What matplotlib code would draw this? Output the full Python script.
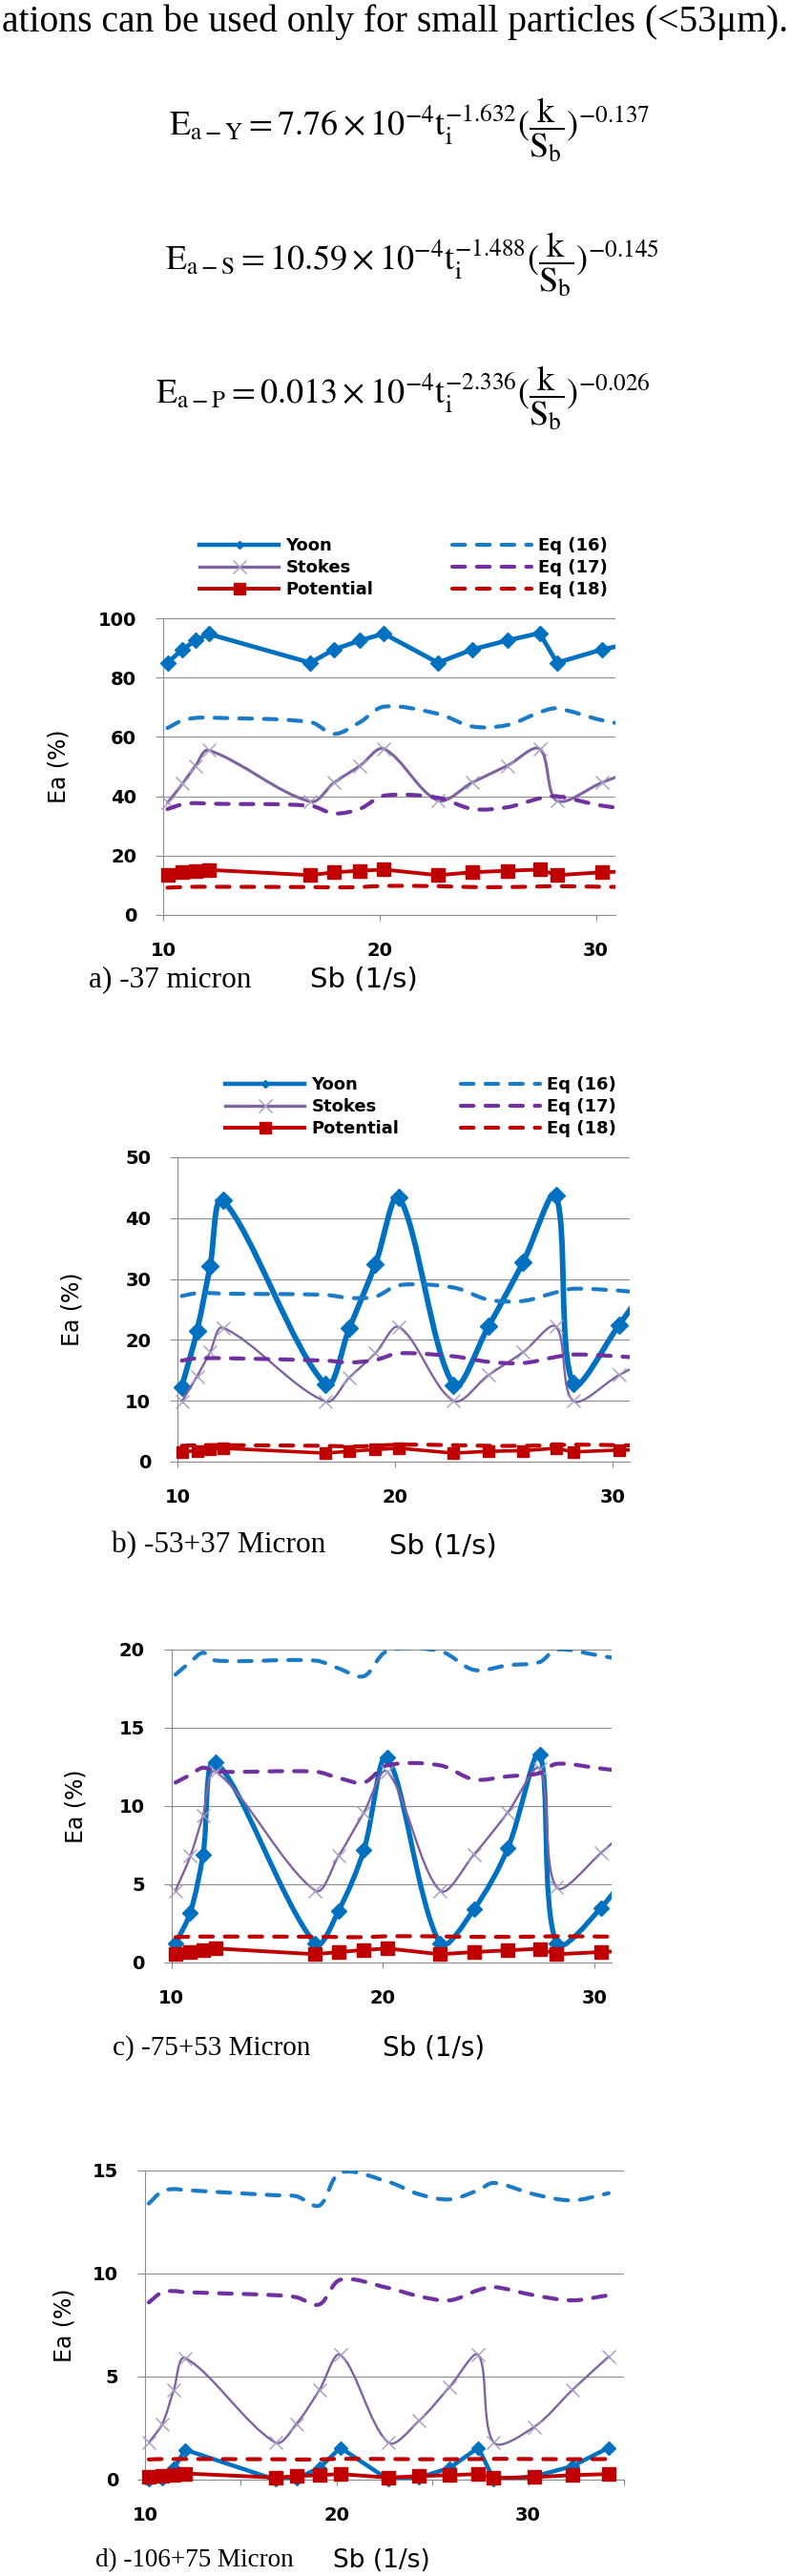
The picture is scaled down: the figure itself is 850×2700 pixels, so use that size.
import numpy as np
import matplotlib
matplotlib.use("Agg")
import matplotlib.pyplot as plt
from matplotlib.path import Path
from matplotlib.patches import PathPatch
from matplotlib.lines import Line2D

plt.rcParams['font.family'] = 'DejaVu Sans'
plt.rcParams['mathtext.fontset'] = 'stix'

# Sb (1/s) of every point, same in all four panels
sb = [10.2, 10.9, 11.5, 12.1, 16.8, 17.9, 19.1, 20.2, 22.7, 24.3, 25.9, 27.4, 28.2, 30.3, 32.3, 34.2]

# a) -37 micron
yoon_a = [85.0, 89.5, 92.5, 94.7, 85.0, 89.5, 92.5, 94.8, 85.0, 89.5, 92.5, 95.0, 85.0, 89.5, 92.5, 95.0]
stokes_a = [37.8, 44.3, 50.3, 55.5, 38.2, 44.6, 50.3, 56.0, 38.6, 44.7, 50.3, 56.0, 38.5, 44.7, 50.3, 56.0]
pot_a = [13.4, 14.4, 14.9, 15.2, 13.4, 14.4, 14.9, 15.3, 13.4, 14.4, 14.9, 15.3, 13.4, 14.4, 14.9, 15.3]
eq16_a = [63.0, 65.6, 66.4, 66.5, 65.0, 61.0, 65.0, 70.2, 67.8, 63.5, 64.0, 68.3, 69.6, 65.6, 63.5, 65.5]
eq17_a = [35.7, 37.3, 37.7, 37.5, 36.8, 34.2, 35.8, 40.2, 39.5, 35.7, 36.3, 39.3, 40.0, 36.8, 35.5, 36.5]
eq18_a = [9.2, 9.4, 9.5, 9.5, 9.4, 9.3, 9.4, 9.8, 9.7, 9.4, 9.4, 9.6, 9.7, 9.5, 9.4, 9.5]

# b) -53+37 Micron
yoon_b = [12.3, 21.5, 32.1, 42.9, 12.7, 21.9, 32.4, 43.4, 12.6, 22.2, 32.8, 43.8, 12.8, 22.4, 32.8, 43.8]
stokes_b = [9.9, 14.0, 18.0, 22.0, 9.9, 13.8, 17.8, 22.1, 10.0, 14.2, 18.0, 22.2, 10.0, 14.2, 18.0, 22.2]
pot_b = [1.6, 1.8, 2.0, 2.2, 1.4, 1.7, 2.0, 2.2, 1.4, 1.7, 1.8, 2.2, 1.6, 1.9, 2.0, 2.2]
eq16_b = [27.2, 27.7, 27.7, 27.6, 27.4, 26.9, 27.1, 29.0, 28.6, 26.6, 26.4, 27.8, 28.4, 28.1, 27.5, 28.0]
eq17_b = [16.6, 17.0, 17.0, 17.0, 16.6, 16.3, 16.7, 17.8, 17.3, 16.4, 16.2, 17.2, 17.6, 17.3, 16.8, 17.2]
eq18_b = [2.6, 2.7, 2.7, 2.7, 2.6, 2.5, 2.6, 2.8, 2.7, 2.6, 2.6, 2.7, 2.8, 2.7, 2.6, 2.7]

# c) -75+53 Micron
yoon_c = [1.2, 3.2, 6.9, 12.8, 1.2, 3.3, 7.2, 13.1, 1.2, 3.4, 7.3, 13.3, 1.2, 3.5, 7.4, 13.4]
stokes_c = [4.6, 6.8, 9.4, 12.2, 4.6, 6.8, 9.6, 12.2, 4.6, 6.9, 9.6, 12.4, 4.8, 7.0, 9.6, 12.4]
pot_c = [0.53, 0.70, 0.80, 0.90, 0.53, 0.67, 0.80, 0.90, 0.53, 0.67, 0.78, 0.88, 0.53, 0.67, 0.80, 0.90]
eq16_c = [18.4, 19.2, 19.8, 19.3, 19.3, 18.8, 18.3, 19.9, 19.9, 18.7, 19.0, 19.2, 20.0, 19.6, 19.2, 19.5]
eq17_c = [11.5, 12.0, 12.45, 12.2, 12.2, 11.8, 11.5, 12.6, 12.6, 11.7, 11.9, 12.1, 12.7, 12.4, 12.1, 12.3]
eq18_c = [1.62, 1.65, 1.66, 1.66, 1.65, 1.63, 1.62, 1.68, 1.67, 1.64, 1.64, 1.66, 1.68, 1.66, 1.65, 1.66]

# d) -106+75 Micron
yoon_d = [0.0, 0.05, 0.55, 1.45, 0.0, 0.05, 0.57, 1.55, 0.0, 0.1, 0.57, 1.55, 0.0, 0.15, 0.65, 1.55]
stokes_d = [1.8, 2.7, 4.35, 5.9, 1.8, 2.7, 4.35, 6.05, 1.8, 2.85, 4.5, 6.05, 1.8, 2.55, 4.35, 5.97]
pot_d = [0.12, 0.2, 0.22, 0.3, 0.1, 0.17, 0.22, 0.27, 0.1, 0.17, 0.22, 0.27, 0.08, 0.12, 0.22, 0.27]
eq16_d = [13.4, 14.0, 14.1, 14.05, 13.8, 13.75, 13.3, 14.9, 14.45, 13.85, 13.6, 14.05, 14.4, 13.85, 13.55, 13.9]
eq17_d = [8.6, 9.1, 9.15, 9.1, 8.95, 8.85, 8.5, 9.7, 9.3, 8.9, 8.7, 9.2, 9.35, 8.95, 8.7, 8.95]
eq18_d = [0.98, 1.0, 1.0, 1.0, 0.99, 0.98, 0.98, 1.01, 1.0, 0.99, 0.99, 1.0, 1.01, 1.0, 0.99, 1.0]

series_names = ['Yoon', 'Stokes', 'Potential', 'Eq (16)', 'Eq (17)', 'Eq (18)']
captions = ['a) -37 micron', 'b) -53+37 Micron', 'c) -75+53 Micron', 'd) -106+75 Micron']

BLUE = '#0070C0'
BLUE_EQ = '#1C7BC6'
PURPLE = '#7F63A1'
PURPLE_EQ = '#7030A0'
XMARK = '#A49CC0'
RED = '#C00000'
GRID = '#8C8C8C'

W, H = 850, 2700
fig = plt.figure(figsize=(8.5, 27), dpi=100)


def box(l, r, t, b):
    return [l / W, 1 - b / H, (r - l) / W, (b - t) / H]


def smooth_path(ax, x, y):
    # excel-like smoothed line, bezier through the points
    pts = np.column_stack([x, y]).astype(float)
    pix = ax.transData.transform(pts)
    n = len(pts)
    verts = [pts[0]]
    for i in range(n - 1):
        i0, i3 = max(i - 1, 0), min(i + 2, n - 1)
        d01 = np.hypot(*(pix[i] - pix[i0]))
        d12 = np.hypot(*(pix[i + 1] - pix[i]))
        d23 = np.hypot(*(pix[i3] - pix[i + 1]))
        wa = d12 / (d01 + d12) if d01 + d12 > 0 else 0
        wb = d12 / (d12 + d23) if d12 + d23 > 0 else 0
        c1 = pts[i] + (pts[i + 1] - pts[i0]) * wa / 3
        c2 = pts[i + 1] - (pts[i3] - pts[i]) * wb / 3
        verts += [c1, c2, pts[i + 1]]
    codes = [Path.MOVETO] + [Path.CURVE4] * (3 * (n - 1))
    return Path(verts, codes)


def add_series(ax, x, y, xmax, color, lw, ls='-', smooth=False, z=3,
               marker=None, ms=0, mfc=None, mec=None, mew=1.0):
    if smooth:
        ax.add_patch(PathPatch(smooth_path(ax, x, y), fill=False, edgecolor=color,
                               lw=lw, linestyle=ls, capstyle='round',
                               joinstyle='round', zorder=z))
    else:
        ax.plot(x, y, color=color, lw=lw, ls=ls, zorder=z,
                solid_joinstyle='round', solid_capstyle='round')
    if marker:
        xs = np.array(x)
        ys = np.array(y)
        keep = xs <= xmax
        ax.plot(xs[keep], ys[keep], ls='none', marker=marker, ms=ms, mfc=mfc,
                mec=mec, mew=mew, zorder=z + 0.05, clip_on=False)


panels = [
    dict(data=(yoon_a, stokes_a, pot_a, eq16_a, eq17_a, eq18_a), box=(171, 645, 648, 959),
         ymax=100, ystep=20, xmax=30.9, yoon_smooth=False, lw=(3.4, 2.2, 2.8, 3.0),
         ms_y=8.5, ms_p=10, ylab_x=62, cap=(93, 1027, 22.5), sb=(325, 21),
         legend=(209, 563, 4.6)),
    dict(data=(yoon_b, stokes_b, pot_b, eq16_b, eq17_b, eq18_b), box=(186, 660, 1213, 1532),
         ymax=50, ystep=10, xmax=30.8, yoon_smooth=True, lw=(4.2, 1.7, 2.6, 3.0),
         ms_y=9, ms_p=9, ylab_x=75, cap=(117, 1620, 22.5), sb=(408, 21),
         legend=(236, 1128, 3.6)),
    dict(data=(yoon_c, stokes_c, pot_c, eq16_c, eq17_c, eq18_c), box=(179.5, 641, 1729, 2057),
         ymax=20, ystep=5, xmax=30.8, yoon_smooth=True, lw=(3.8, 1.7, 2.8, 3.0),
         ms_y=8.5, ms_p=10, ylab_x=79, cap=(118, 2147, 21), sb=(401, 20), legend=None),
    dict(data=(yoon_d, stokes_d, pot_d, eq16_d, eq17_d, eq18_d), box=(152, 654, 2275, 2599),
         ymax=15, ystep=5, xmax=35, yoon_smooth=False, lw=(3.2, 1.7, 2.8, 3.0),
         ms_y=7, ms_p=9.5, ylab_x=68, cap=(100, 2684, 19.5), sb=(349, 19), legend=None),
]

for k, p in enumerate(panels):
    l, r, t, b = p['box']
    ax = fig.add_axes(box(l, r, t, b))
    ax.set_xlim(10, p['xmax'])
    ax.set_ylim(0, p['ymax'])
    if p['xmax'] > 31:
        ax.set_xticks([10, 15, 20, 25, 30, 35])
        ax.set_xticklabels(['10', '', '20', '', '30', ''])
    else:
        ax.set_xticks([10, 20, 30])
    ax.set_yticks(np.arange(0, p['ymax'] + 0.01, p['ystep']))
    ax.grid(axis='y', color=GRID, lw=0.8)
    ax.set_axisbelow(True)
    for s in ['top', 'right']:
        ax.spines[s].set_visible(False)
    for s in ['left', 'bottom']:
        ax.spines[s].set_color(GRID)
        ax.spines[s].set_linewidth(0.8)
    ax.tick_params(axis='y', length=6, width=0.8, color=GRID, pad=14, labelsize=14)
    ax.tick_params(axis='x', length=4.5, width=0.8, color=GRID, pad=16, labelsize=14)
    for lbl in ax.get_xticklabels() + ax.get_yticklabels():
        lbl.set_fontweight('bold')

    yoon, stokes, pot, eq16, eq17, eq18 = p['data']
    lw_y, lw_s, lw_p, lw_e = p['lw']
    xm = p['xmax']
    dash = (0, (3.2, 3.0))
    add_series(ax, sb, yoon, xm, BLUE, lw_y, smooth=p['yoon_smooth'], z=3,
               marker='D', ms=p['ms_y'], mfc=BLUE, mec=BLUE)
    add_series(ax, sb, stokes, xm, PURPLE, lw_s, smooth=True, z=3.1,
               marker='x', ms=10, mfc=XMARK, mec=XMARK, mew=1.0)
    add_series(ax, sb, pot, xm, RED, lw_p, smooth=False, z=3.2,
               marker='s', ms=p['ms_p'], mfc=RED, mec=RED)
    add_series(ax, sb, eq16, xm, BLUE_EQ, lw_e, ls=dash, smooth=True, z=3.3)
    add_series(ax, sb, eq17, xm, PURPLE_EQ, lw_e, ls=dash, smooth=True, z=3.4)
    add_series(ax, sb, eq18, xm, RED, lw_e, ls=dash, smooth=True, z=3.5)

    fig.text(p['ylab_x'] / W, 1 - (t + b) / 2 / H, 'Ea (%)', rotation=90,
             ha='center', va='center', fontsize=17)
    cx, cy, cs = p['cap']
    fig.text(cx / W, 1 - cy / H, captions[k], ha='left', va='center',
             fontsize=cs, family='Liberation Serif')
    sx, ss = p['sb']
    fig.text(sx / W, 1 - cy / H, 'Sb (1/s)', ha='left', va='center', fontsize=ss)

    if p['legend']:
        lx, ly, colsp = p['legend']
        handles = [
            Line2D([], [], color=BLUE, lw=3.2, marker='D', ms=4, mfc=BLUE, mec=BLUE),
            Line2D([], [], color=PURPLE, lw=2.4, marker='x', ms=10, mec=XMARK, mew=1.0),
            Line2D([], [], color=RED, lw=2.8, marker='s', ms=8.5, mfc=RED, mec=RED),
            Line2D([], [], color=BLUE_EQ, lw=3, ls=dash, dash_capstyle='round'),
            Line2D([], [], color=PURPLE_EQ, lw=3, ls=dash, dash_capstyle='round'),
            Line2D([], [], color=RED, lw=3, ls=dash, dash_capstyle='round'),
        ]
        fig.legend(handles, series_names, ncol=2, loc='upper left',
                   bbox_to_anchor=(lx / W, 1 - ly / H), frameon=False,
                   borderpad=0, borderaxespad=0, handlelength=4.6,
                   handletextpad=0.4, columnspacing=colsp, labelspacing=0.28,
                   prop={'weight': 'bold', 'size': 13})

# text above the charts
fig.text(2 / W, 1 - 33 / H, 'ations can be used only for small particles (<53\u03bcm).',
         ha='left', va='baseline', fontsize=28.5, family='Liberation Serif')
eqs = [
    (177, 142, r'$\mathrm{E_{a-Y}}=7.76\times10^{-4}\mathrm{t_i^{-1.632}}(\dfrac{\mathrm{k}}{\mathrm{S_b}})^{-0.137}$'),
    (173, 283, r'$\mathrm{E_{a-S}}=10.59\times10^{-4}\mathrm{t_i^{-1.488}}(\dfrac{\mathrm{k}}{\mathrm{S_b}})^{-0.145}$'),
    (163, 423, r'$\mathrm{E_{a-P}}=0.013\times10^{-4}\mathrm{t_i^{-2.336}}(\dfrac{\mathrm{k}}{\mathrm{S_b}})^{-0.026}$'),
]
for ex, ey, s in eqs:
    fig.text(ex / W, 1 - ey / H, s, ha='left', va='baseline', fontsize=26)

fig.savefig('out.png', dpi=100, facecolor='white')
